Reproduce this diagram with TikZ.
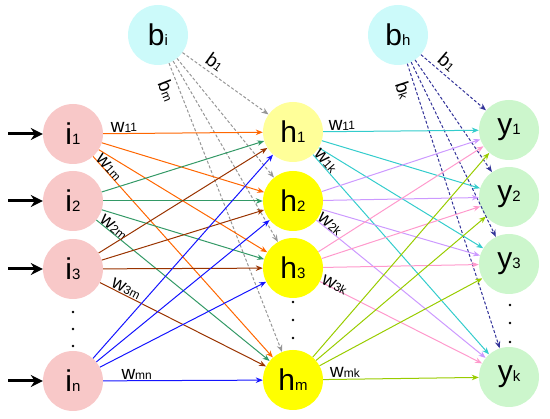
\documentclass[tikz,border=0pt]{standalone}
\usepackage{fontspec}
\setmainfont{Liberation Sans}
\usetikzlibrary{arrows.meta}

\definecolor{inpink}{RGB}{248,200,200}
\definecolor{hidlight}{RGB}{255,255,153}
\definecolor{hidyellow}{RGB}{255,255,0}
\definecolor{outgreen}{RGB}{204,246,204}
\definecolor{biascyan}{RGB}{204,250,250}
\definecolor{eorange}{RGB}{255,102,0}
\definecolor{egreen}{RGB}{51,153,102}
\definecolor{ebrown}{RGB}{153,51,0}
\definecolor{eblue}{RGB}{20,20,255}
\definecolor{eteal}{RGB}{51,204,204}
\definecolor{eviolet}{RGB}{204,153,255}
\definecolor{epink}{RGB}{255,153,204}
\definecolor{elime}{RGB}{153,204,0}
\definecolor{egray}{RGB}{150,150,150}
\definecolor{enavy}{RGB}{51,51,153}

\newcommand{\nlab}[2]{{\fontsize{30}{30}\selectfont #1}{\fontsize{15}{15}\selectfont #2}}
\newcommand{\wlab}[2]{{\fontsize{19}{19}\selectfont #1}{\fontsize{12}{12}\selectfont #2}}

\tikzset{
	neuron/.style={shape=circle, inner sep=0pt, minimum size=60pt},
	inp/.style={neuron, fill=inpink},
	hid/.style={neuron, fill=hidyellow},
	outp/.style={neuron, fill=outgreen},
	bnode/.style={neuron, fill=biascyan},
	syn/.style={-{Stealth[length=7pt,width=5.5pt]}, line width=1pt},
	biasedge/.style={syn, dash pattern=on 3pt off 2pt},
	feed/.style={-{Stealth[length=12pt,width=12pt]}, line width=3pt, black},
	wl/.style={sloped, inner sep=1pt, text=black},
	vdot/.style={circle, fill=black, inner sep=0pt, minimum size=2.6pt}
}

\begin{document}
\begin{tikzpicture}[x=1pt,y=-1pt]
	\useasboundingbox (0,0) rectangle (550,419);
	% neurons
	\path (73,134) node (i1) [inp] {\nlab{i}{1}}
		  (73,201) node (i2) [inp] {\nlab{i}{2}}
		  (73,269) node (i3) [inp] {\nlab{i}{3}}
		  (73,381) node (in) [inp] {\nlab{i}{n}}
		  (293,132) node (h1) [hid, fill=hidlight] {\nlab{h}{1}}
		  (293,201) node (h2) [hid] {\nlab{h}{2}}
		  (293,268) node (h3) [hid] {\nlab{h}{3}}
		  (293,380) node (hm) [hid] {\nlab{h}{m}}
		  (509,130) node (y1) [outp] {\nlab{y}{1}}
		  (509,197) node (y2) [outp] {\nlab{y}{2}}
		  (509,264) node (y3) [outp] {\nlab{y}{3}}
		  (509,377) node (yk) [outp] {\nlab{y}{k}}
		  (158,35) node (bi) [bnode] {\nlab{b}{i}}
		  (398,35) node (bh) [bnode] {\nlab{b}{h}};
	% dots
	\path (73,312) node (id1) [vdot] {} (73,329) node (id2) [vdot] {} (73,346) node (id3) [vdot] {}
		  (293,302) node (hd1) [vdot] {} (293,320) node (hd2) [vdot] {} (293,338) node (hd3) [vdot] {}
		  (510,305) node (yd1) [vdot] {} (510,323) node (yd2) [vdot] {} (510,342) node (yd3) [vdot] {};
	% inputs
	\coordinate (x1) at (8,134);
	\coordinate (x2) at (8,201);
	\coordinate (x3) at (8,269);
	\coordinate (xn) at (8,381);
	\draw[feed] (x1) -- (i1);
	\draw[feed] (x2) -- (i2);
	\draw[feed] (x3) -- (i3);
	\draw[feed] (xn) -- (in);
	% bias
	\draw[biasedge, egray] (bi) -- node[wl, pos=0.3, above=3pt] {\wlab{b}{1}} (h1);
	\draw[biasedge, egray] (bi) -- (h2);
	\draw[biasedge, egray] (bi) -- (h3);
	\draw[biasedge, egray] (bi) -- node[wl, pos=0.08, below=3pt] {\wlab{b}{m}} (hm);
	\draw[biasedge, enavy] (bh) -- node[wl, pos=0.29, above=3pt] {\wlab{b}{1}} (y1);
	\draw[biasedge, enavy] (bh) -- (y2);
	\draw[biasedge, enavy] (bh) -- (y3);
	\draw[biasedge, enavy] (bh) -- node[wl, pos=0.08, below=3pt] {\wlab{b}{k}} (yk);
	% input -> hidden
	\draw[syn, eorange] (i1) -- node[wl, pos=0.13, above] {\wlab{w}{11}} (h1);
	\draw[syn, eorange] (i1) -- (h2);
	\draw[syn, eorange] (i1) -- (h3);
	\draw[syn, eorange] (i1) -- node[wl, pos=0.07, above=-2pt] {\wlab{w}{1m}} (hm);
	\draw[syn, egreen] (i2) -- (h1);
	\draw[syn, egreen] (i2) -- (h2);
	\draw[syn, egreen] (i2) -- (h3);
	\draw[syn, egreen] (i2) -- node[wl, pos=0.08, above=-1pt] {\wlab{w}{2m}} (hm);
	\draw[syn, ebrown] (i3) -- (h1);
	\draw[syn, ebrown] (i3) -- (h2);
	\draw[syn, ebrown] (i3) -- (h3);
	\draw[syn, ebrown] (i3) -- node[wl, pos=0.14, above] {\wlab{w}{3m}} (hm);
	\draw[syn, eblue] (in) -- (h1);
	\draw[syn, eblue] (in) -- (h2);
	\draw[syn, eblue] (in) -- (h3);
	\draw[syn, eblue] (in) -- node[wl, pos=0.21, above] {\wlab{w}{mn}} (hm);
	% hidden -> output
	\draw[syn, eteal] (h1) -- node[wl, pos=0.12, above] {\wlab{w}{11}} (y1);
	\draw[syn, eteal] (h1) -- (y2);
	\draw[syn, eteal] (h1) -- (y3);
	\draw[syn, eteal] (h1) -- node[wl, pos=0.05, above=-1pt] {\wlab{w}{1k}} (yk);
	\draw[syn, eviolet] (h2) -- (y1);
	\draw[syn, eviolet] (h2) -- (y2);
	\draw[syn, eviolet] (h2) -- (y3);
	\draw[syn, eviolet] (h2) -- node[wl, pos=0.06, above=-1pt] {\wlab{w}{2k}} (yk);
	\draw[syn, epink] (h3) -- (y1);
	\draw[syn, epink] (h3) -- (y2);
	\draw[syn, epink] (h3) -- (y3);
	\draw[syn, epink] (h3) -- node[wl, pos=0.08, above=-3pt] {\wlab{w}{3k}} (yk);
	\draw[syn, elime] (hm) -- (y1);
	\draw[syn, elime] (hm) -- (y2);
	\draw[syn, elime] (hm) -- (y3);
	\draw[syn, elime] (hm) -- node[wl, pos=0.14, above] {\wlab{w}{mk}} (yk);
\end{tikzpicture}
\end{document}
